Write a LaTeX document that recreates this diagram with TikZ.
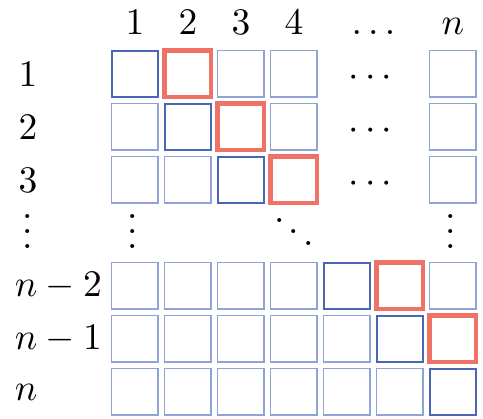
\documentclass[tikz,border=0pt]{standalone}
\usepackage{amsmath, amssymb}
\usepackage{tikz}

\definecolor{cellblue}{RGB}{143,163,212}
\definecolor{diagblue}{RGB}{74,103,181}
\definecolor{bandred}{RGB}{238,114,102}

\tikzset{
    cell/.style={draw=cellblue, line width=0.4pt, minimum size=12.4pt, inner sep=0pt},
    diagcell/.style={cell, draw=diagblue, line width=0.6pt},
    bandcell/.style={cell, draw=bandred, line width=1.2pt},
    lbl/.style={inner sep=0pt},
    vlbl/.style={lbl, anchor=base, text height=9pt},
}

\newcommand{\gridcell}[2]{%
    \ifnum#2=#1\relax \def\cellstyle{diagcell}%
    \else\ifnum#2=\numexpr#1+1\relax \def\cellstyle{bandcell}%
    \else \def\cellstyle{cell}\fi\fi
    \node[style=\cellstyle] (c#1-#2) at ({135+53*(#2-1)}, {74+53*(#1-1)}) {};}

\begin{document}
\begin{tikzpicture}[x=0.26667pt, y=-0.26667pt]
    \useasboundingbox (0,0) rectangle (483,419);
    \foreach \i in {1,2,3} \foreach \j in {1,2,3,4,7} {\gridcell{\i}{\j}}
    \foreach \i in {5,6,7} \foreach \j in {1,...,7} {\gridcell{\i}{\j}}
    % column labels
    \foreach \j in {1,...,4}
        \node[lbl, anchor=base] (col\j) at ({135+53*(\j-1)}, 35) {$\j$};
    \node[lbl, anchor=base] (coldots) at (373.5, 35) {$\ldots$};
    \node[lbl, anchor=base] (coln) at (453, 35) {$n$};
    % row labels
    \foreach \i in {1,2,3} {
        \node[lbl] (row\i) at (28,0 |- c\i-1) {$\i$};
        \node[lbl] (rowdots\i) at ({373.5}, {74+53*(\i-1)+4}) {$\cdots$};
    }
    \node[lbl, anchor=west] (row5) at (14,0 |- c5-1) {$n-2$};
    \node[lbl, anchor=west] (row6) at (14,0 |- c6-1) {$n-1$};
    \node[lbl, anchor=west] (row7) at (14,0 |- c7-1) {$n$};
    % the skipped rows
    \node[vlbl] (vdrow) at (28, 249) {$\vdots$};
    \node[vlbl] (vdfirst) at (133, 249) {$\vdots$};
    \node[vlbl] (ddmid) at (294, 249) {$\ddots$};
    \node[vlbl] (vdlast) at (451, 249) {$\vdots$};
\end{tikzpicture}
\end{document}
